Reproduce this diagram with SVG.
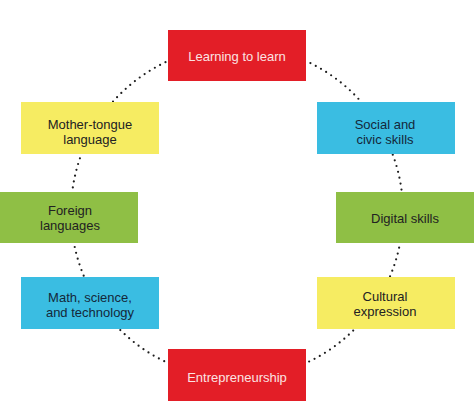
<svg xmlns="http://www.w3.org/2000/svg" width="474" height="401" viewBox="0 0 474 401">
<style>
.t{font-family:"Liberation Sans",Arial,sans-serif;font-size:13px;fill:#222222;text-anchor:middle}
.dk{fill:#14283a}
.w{fill:#fbe3e3}
.red{fill:#e31e27}.yel{fill:#f6ec62}.blu{fill:#3abde2}.grn{fill:#8fbf45}
</style>
<rect width="474" height="401" fill="#ffffff"/>
<g id="connectors">
<circle cx="237" cy="212" r="166" fill="none" stroke="#1e1e1e" stroke-width="2.2" stroke-linecap="round" stroke-dasharray="0 6"/>
</g>
<g id="learning"><rect class="red" x="168" y="30" width="138" height="51"/><text class="t w" x="237" y="61">Learning to learn</text></g>
<g id="mother"><rect class="yel" x="21" y="102" width="138" height="52"/><text class="t" x="90" y="128.5">Mother-tongue</text><text class="t" x="90" y="143.5">language</text></g>
<g id="social"><rect class="blu" x="317" y="102" width="138" height="52"/><text class="t dk" x="385" y="128.5">Social and</text><text class="t dk" x="385" y="143.5">civic skills</text></g>
<g id="foreign"><rect class="grn" x="0" y="192" width="138" height="51"/><text class="t" x="70" y="214.5">Foreign</text><text class="t" x="70" y="229.5">languages</text></g>
<g id="digital"><rect class="grn" x="336" y="192" width="138" height="51"/><text class="t" x="405" y="223">Digital skills</text></g>
<g id="math"><rect class="blu" x="21" y="277" width="138" height="52"/><text class="t dk" x="90" y="302">Math, science,</text><text class="t dk" x="90" y="317">and technology</text></g>
<g id="cultural"><rect class="yel" x="317" y="277" width="138" height="52"/><text class="t" x="385" y="300.5">Cultural</text><text class="t" x="385" y="315.5">expression</text></g>
<g id="entrepreneurship"><rect class="red" x="168" y="349" width="138" height="52"/><text class="t w" x="237" y="381.5">Entrepreneurship</text></g>
</svg>
